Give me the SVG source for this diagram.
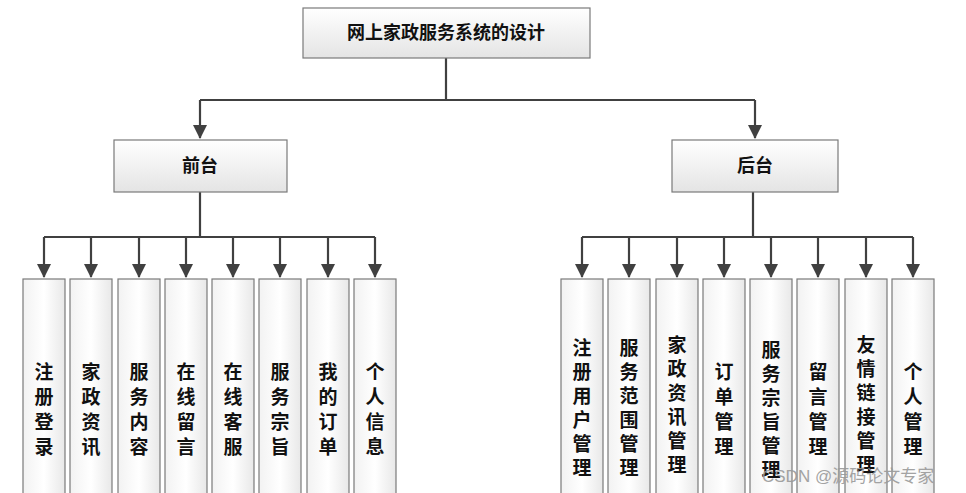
<svg xmlns="http://www.w3.org/2000/svg" width="966" height="493" viewBox="0 0 966 493">
<defs>
<linearGradient id="g" x1="0" y1="0" x2="0" y2="1"><stop offset="0" stop-color="#ffffff"/><stop offset="1" stop-color="#e4e4e4"/></linearGradient>
<linearGradient id="gv" x1="0" y1="0" x2="1" y2="0"><stop offset="0" stop-color="#f2f2f2"/><stop offset="0.5" stop-color="#ffffff"/><stop offset="1" stop-color="#e8e8e8"/></linearGradient>
<marker id="a" markerWidth="14" markerHeight="14" refX="13" refY="7" orient="auto" markerUnits="userSpaceOnUse"><path d="M0,0 L14,7 L0,14 z" fill="#404040"/></marker>
</defs>
<style>
.b{fill:url(#g);stroke:#7a7a7a;stroke-width:1.2}
.v{fill:url(#gv);stroke:#7a7a7a;stroke-width:1.2}
.t{font-family:"Noto Sans CJK SC",sans-serif;font-size:18px;font-weight:bold;fill:#111;text-anchor:middle}
.c{font-family:"Noto Sans CJK SC",sans-serif;font-size:19px;font-weight:bold;fill:#111;text-anchor:middle}
.l{stroke:#404040;stroke-width:2.2;fill:none}
</style>
<rect width="966" height="493" fill="#fff"/>
<g id="connectors" class="l">
<path d="M446,58 V100 M200,100 H755"/>
<path d="M200,192 V237 M44,237 H375 M753,192 V237 M582,237 H913"/>
<g marker-end="url(#a)"><path d="M200,100 V138"/><path d="M755,100 V138"/>
<path d="M44,237V277"/><path d="M91,237V277"/><path d="M139,237V277"/><path d="M186,237V277"/><path d="M233,237V277"/><path d="M280,237V277"/><path d="M328,237V277"/><path d="M375,237V277"/>
<path d="M582,237V277"/><path d="M629,237V277"/><path d="M677,237V277"/><path d="M724,237V277"/><path d="M771,237V277"/><path d="M818,237V277"/><path d="M866,237V277"/><path d="M913,237V277"/></g>
</g>
<g id="root"><rect class="b" x="303" y="8" width="287" height="50"/><text class="t" x="446" y="39">网上家政服务系统的设计</text></g>
<g id="front"><rect class="b" x="114" y="140" width="173" height="52"/><text class="t" x="200" y="172">前台</text></g>
<g id="back"><rect class="b" x="672" y="140" width="166" height="52"/><text class="t" x="755" y="172">后台</text></g>
<g id="f1"><rect class="v" x="23" y="279" width="42" height="220"/><text class="c"><tspan x="44" y="379">注</tspan><tspan x="44" dy="25">册</tspan><tspan x="44" dy="25">登</tspan><tspan x="44" dy="25">录</tspan></text></g>
<g id="f2"><rect class="v" x="70" y="279" width="42" height="220"/><text class="c"><tspan x="91" y="379">家</tspan><tspan x="91" dy="25">政</tspan><tspan x="91" dy="25">资</tspan><tspan x="91" dy="25">讯</tspan></text></g>
<g id="f3"><rect class="v" x="118" y="279" width="42" height="220"/><text class="c"><tspan x="139" y="379">服</tspan><tspan x="139" dy="25">务</tspan><tspan x="139" dy="25">内</tspan><tspan x="139" dy="25">容</tspan></text></g>
<g id="f4"><rect class="v" x="165" y="279" width="42" height="220"/><text class="c"><tspan x="186" y="379">在</tspan><tspan x="186" dy="25">线</tspan><tspan x="186" dy="25">留</tspan><tspan x="186" dy="25">言</tspan></text></g>
<g id="f5"><rect class="v" x="212" y="279" width="42" height="220"/><text class="c"><tspan x="233" y="379">在</tspan><tspan x="233" dy="25">线</tspan><tspan x="233" dy="25">客</tspan><tspan x="233" dy="25">服</tspan></text></g>
<g id="f6"><rect class="v" x="259" y="279" width="42" height="220"/><text class="c"><tspan x="280" y="379">服</tspan><tspan x="280" dy="25">务</tspan><tspan x="280" dy="25">宗</tspan><tspan x="280" dy="25">旨</tspan></text></g>
<g id="f7"><rect class="v" x="307" y="279" width="42" height="220"/><text class="c"><tspan x="328" y="379">我</tspan><tspan x="328" dy="25">的</tspan><tspan x="328" dy="25">订</tspan><tspan x="328" dy="25">单</tspan></text></g>
<g id="f8"><rect class="v" x="354" y="279" width="42" height="220"/><text class="c"><tspan x="375" y="379">个</tspan><tspan x="375" dy="25">人</tspan><tspan x="375" dy="25">信</tspan><tspan x="375" dy="25">息</tspan></text></g>
<g id="b1"><rect class="v" x="561" y="279" width="42" height="220"/><text class="c"><tspan x="582" y="355">注</tspan><tspan x="582" dy="24">册</tspan><tspan x="582" dy="24">用</tspan><tspan x="582" dy="24">户</tspan><tspan x="582" dy="24">管</tspan><tspan x="582" dy="24">理</tspan></text></g>
<g id="b2"><rect class="v" x="608" y="279" width="42" height="220"/><text class="c"><tspan x="629" y="355">服</tspan><tspan x="629" dy="24">务</tspan><tspan x="629" dy="24">范</tspan><tspan x="629" dy="24">围</tspan><tspan x="629" dy="24">管</tspan><tspan x="629" dy="24">理</tspan></text></g>
<g id="b3"><rect class="v" x="656" y="279" width="42" height="220"/><text class="c"><tspan x="677" y="352">家</tspan><tspan x="677" dy="24">政</tspan><tspan x="677" dy="24">资</tspan><tspan x="677" dy="24">讯</tspan><tspan x="677" dy="24">管</tspan><tspan x="677" dy="24">理</tspan></text></g>
<g id="b4"><rect class="v" x="703" y="279" width="42" height="220"/><text class="c"><tspan x="724" y="379">订</tspan><tspan x="724" dy="25">单</tspan><tspan x="724" dy="25">管</tspan><tspan x="724" dy="25">理</tspan></text></g>
<g id="b5"><rect class="v" x="750" y="279" width="42" height="220"/><text class="c"><tspan x="771" y="357">服</tspan><tspan x="771" dy="24">务</tspan><tspan x="771" dy="24">宗</tspan><tspan x="771" dy="24">旨</tspan><tspan x="771" dy="24">管</tspan><tspan x="771" dy="24">理</tspan></text></g>
<g id="b6"><rect class="v" x="797" y="279" width="42" height="220"/><text class="c"><tspan x="818" y="379">留</tspan><tspan x="818" dy="25">言</tspan><tspan x="818" dy="25">管</tspan><tspan x="818" dy="25">理</tspan></text></g>
<g id="b7"><rect class="v" x="845" y="279" width="42" height="220"/><text class="c"><tspan x="866" y="352">友</tspan><tspan x="866" dy="24">情</tspan><tspan x="866" dy="24">链</tspan><tspan x="866" dy="24">接</tspan><tspan x="866" dy="24">管</tspan><tspan x="866" dy="24">理</tspan></text></g>
<g id="b8"><rect class="v" x="892" y="279" width="42" height="220"/><text class="c"><tspan x="913" y="379">个</tspan><tspan x="913" dy="25">人</tspan><tspan x="913" dy="25">管</tspan><tspan x="913" dy="25">理</tspan></text></g>
<text x="762" y="482" font-family="'Liberation Sans','Noto Sans CJK SC',sans-serif" font-size="17" fill="#9a9a9a" opacity="0.9">CSDN @源码论文专家</text>
</svg>
